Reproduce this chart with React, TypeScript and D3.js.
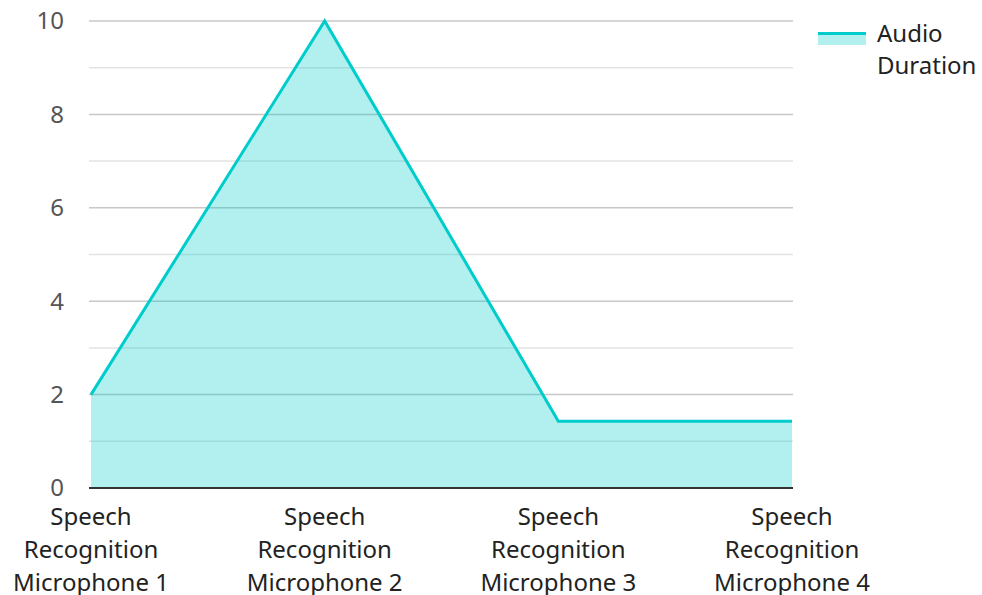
import React from "react";
import * as d3 from "d3";

const categories = [
  ["Speech", "Recognition", "Microphone 1"],
  ["Speech", "Recognition", "Microphone 2"],
  ["Speech", "Recognition", "Microphone 3"],
  ["Speech", "Recognition", "Microphone 4"],
];
const values = [2, 10, 1.43, 1.43];
const majorTicks = [0, 2, 4, 6, 8, 10];
const minorTicks = [1, 3, 5, 7, 9];
const seriesName = ["Audio", "Duration"];

const W = 982;
const H = 595;
const left = 91;
const right = 792;
const top = 21;
const bottom = 488;
const FONT = "'Noto Sans', 'Open Sans', sans-serif";
const COLOR = "#00cccc";

export default function App() {
  const x = d3.scalePoint<number>().domain(d3.range(values.length)).range([left, right]);
  const y = d3.scaleLinear().domain([0, 10]).range([bottom, top]);
  const area = d3
    .area<number>()
    .x((_, i) => x(i)!)
    .y0(y(0))
    .y1((d) => y(d));
  const line = d3
    .line<number>()
    .x((_, i) => x(i)!)
    .y((d) => y(d));

  return (
    <svg
      width={W}
      height={H}
      style={{ position: "absolute", left: 0, top: 0 }}
      fontFamily={FONT}
    >
      <rect width={W} height={H} fill="#fff" />
      {minorTicks.map((t) => (
        <line key={"m" + t} x1={89} x2={793} y1={y(t)} y2={y(t)} stroke="#e3e3e3" strokeWidth={1.5} />
      ))}
      {majorTicks.map((t) => (
        <line key={"M" + t} x1={89} x2={793} y1={y(t)} y2={y(t)} stroke="#c8c8c8" strokeWidth={1.5} />
      ))}
      <path d={area(values)!} fill={COLOR} fillOpacity={0.3} />
      <path d={line(values)!} fill="none" stroke={COLOR} strokeWidth={3} strokeLinejoin="miter" />
      <line x1={89} x2={793} y1={y(0)} y2={y(0)} stroke="#333" strokeWidth={2} />
      {majorTicks.map((t) => (
        <text key={"t" + t} x={64} y={y(t)} dy="0.35em" textAnchor="end" fontSize={24} fill="#555">
          {t}
        </text>
      ))}
      {categories.map((lines, i) => (
        <text key={"c" + i} textAnchor="middle" fontSize={24} fill="#222">
          {lines.map((l, j) => (
            <tspan key={j} x={x(i)} y={525 + j * 33}>
              {l}
            </tspan>
          ))}
        </text>
      ))}
      <rect x={818} y={32} width={48} height={13} fill={COLOR} fillOpacity={0.3} />
      <line x1={818} x2={866} y1={33.5} y2={33.5} stroke={COLOR} strokeWidth={3} />
      {seriesName.map((s, j) => (
        <text key={s} x={877} y={42 + j * 32} fontSize={24} fill="#222">
          {s}
        </text>
      ))}
    </svg>
  );
}
